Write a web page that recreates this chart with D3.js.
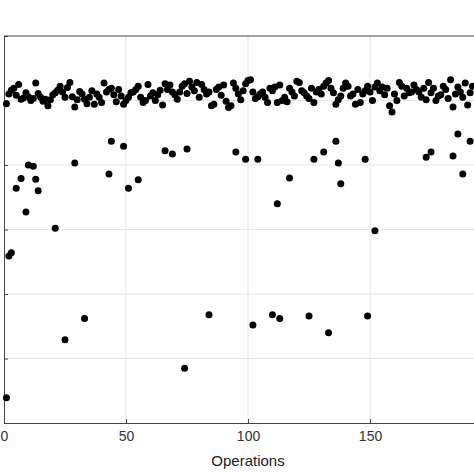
<!DOCTYPE html>
<html>
<head>
<meta charset="utf-8">
<script src="https://cdn.jsdelivr.net/npm/d3@7"></script>
<style>body{margin:0;background:#fff;}svg{font-family:"Liberation Sans",Arial,sans-serif;}</style>
</head>
<body>
<svg id="chart" width="474" height="474"></svg>
<script>
// main cluster, one value per operation starting at 1
const topVals = [4.95,5.10,5.16,5.19,5.08,5.25,5.02,5.04,5.12,5.06,5.00,5.03,5.27,5.11,5.05,4.99,5.02,4.92,5.01,5.09,5.12,5.16,5.22,5.13,5.05,5.20,5.28,5.06,4.90,5.01,5.14,5.10,5.02,4.95,5.05,5.15,4.94,5.10,5.05,4.97,5.27,5.13,5.17,5.19,5.09,4.98,5.17,5.07,4.94,5.00,5.05,5.12,5.13,5.17,5.22,5.05,4.97,5.00,5.25,5.07,5.12,5.00,5.09,5.16,4.93,5.26,5.17,5.24,5.13,5.09,5.02,5.13,5.22,5.26,5.11,5.30,5.21,5.15,5.28,5.05,5.25,5.17,5.10,5.13,4.92,4.94,5.17,5.21,5.08,5.24,4.99,4.89,4.92,5.27,5.19,5.10,5.01,5.15,5.26,5.31,5.32,5.13,5.03,5.06,5.10,5.13,5.05,4.97,5.19,5.15,5.21,4.97,5.24,5.00,5.05,4.98,5.19,5.13,5.07,5.30,5.28,5.15,5.12,5.07,5.03,5.19,4.97,5.13,5.17,5.10,5.22,5.27,5.31,5.19,5.12,4.94,5.01,5.07,5.19,5.27,5.22,5.07,5.10,4.94,5.17,4.97,5.10,5.15,5.22,5.13,5.00,5.21,5.27,5.15,5.21,5.09,5.19,4.92,4.82,5.10,5.00,5.28,5.22,5.07,5.19,5.12,5.13,5.24,5.17,5.13,5.05,5.19,5.01,5.28,5.12,5.19,5.00,5.07,5.09,5.22,5.17,5.03,5.32,4.90,5.10,5.21,5.13,5.05,5.27,4.93,5.12,5.22];
// scattered low points
const lowOps  = [1,2,3,5,7,9,10,12,13,14,21,25,29,33,43,44,49,51,55,66,69,74,75,84,95,99,102,104,110,112,113,117,125,127,131,133,136,137,138,148,149,152,173,175,184,186,188,191];
const lowVals = [0.39,2.59,2.64,3.64,3.79,3.27,4.00,3.98,3.78,3.60,3.02,1.29,4.03,1.62,3.86,4.37,4.29,3.64,3.77,4.22,4.17,0.85,4.25,1.68,4.20,4.09,1.52,4.09,1.68,3.40,1.62,3.80,1.66,4.09,4.20,1.40,4.37,4.03,3.71,4.09,1.66,2.98,4.12,4.20,4.14,4.48,3.86,4.37];
const xTicks = [0,50,100,150];
const yTicks = [0,1,2,3,4,5,6];

const svg = d3.select("#chart");
const mLeft = 4, mTop = 36, mBottom = 423;
const x = d3.scaleLinear().domain([0,192.6]).range([mLeft,474]);
const y = d3.scaleLinear().domain([0,6]).range([mBottom,mTop]);

// grid
svg.append("g").selectAll("line").data(xTicks.slice(1)).join("line")
  .attr("x1",d=>x(d)).attr("x2",d=>x(d)).attr("y1",mTop).attr("y2",mBottom)
  .attr("stroke","#e5e5e5");
svg.append("g").selectAll("line").data(yTicks.slice(1,-1)).join("line")
  .attr("x1",mLeft).attr("x2",474).attr("y1",d=>y(d)).attr("y2",d=>y(d))
  .attr("stroke","#e5e5e5");
svg.append("line").attr("x1",mLeft).attr("x2",474).attr("y1",mTop).attr("y2",mTop).attr("stroke","#444");

// axes
const xa = svg.append("g").attr("transform",`translate(0,${mBottom})`)
  .call(d3.axisBottom(x).tickValues(xTicks).tickSizeInner(-4).tickSizeOuter(0).tickPadding(8));
xa.select(".domain").attr("stroke","#444");
xa.selectAll("text").attr("font-size",14).attr("fill","#333");
xa.selectAll(".tick line").attr("stroke","#444");
const ya = svg.append("g").attr("transform",`translate(${mLeft},0)`)
  .call(d3.axisLeft(y).tickValues(yTicks).tickSizeInner(-4).tickSizeOuter(0).tickFormat(""));
ya.select(".domain").attr("stroke","#444");
ya.selectAll(".tick line").attr("stroke","#444");

svg.append("text").attr("x",x(100)).attr("y",466).attr("text-anchor","middle")
  .attr("font-size",15).attr("fill","#222").text("Operations");

// points
const pts = topVals.map((v,i)=>[i+1,v]).concat(lowOps.map((o,i)=>[o,lowVals[i]]));
svg.append("g").selectAll("circle").data(pts).join("circle")
  .attr("cx",d=>x(d[0])).attr("cy",d=>y(d[1])).attr("r",3.5).attr("fill","#000");
</script>
</body>
</html>
